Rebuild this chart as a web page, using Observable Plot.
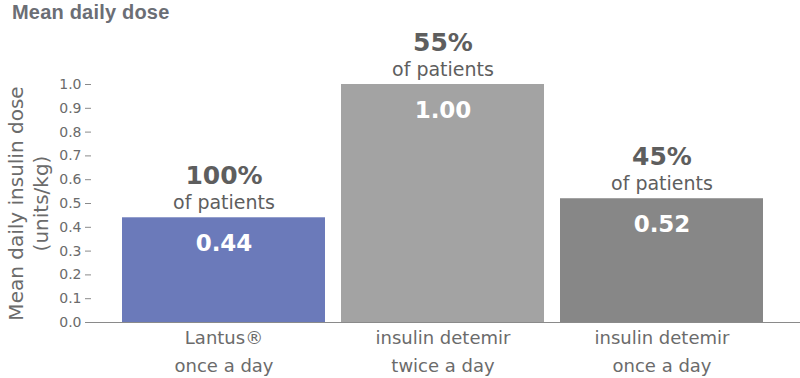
<!DOCTYPE html>
<html>
<head>
<meta charset="utf-8">
<script src="https://cdn.jsdelivr.net/npm/d3@7"></script>
<script src="https://cdn.jsdelivr.net/npm/@observablehq/plot@0.6"></script>
<style>
  html, body { margin: 0; padding: 0; background: #fff; }
  #title { height: 26px; font: bold 20px "Liberation Sans", Arial, sans-serif; color: #6b6e75; padding-left: 12px; line-height: 24px; letter-spacing: 0.2px; }
  svg { display: block; }
</style>
</head>
<body>
<div id="title">Mean daily dose</div>
<div id="chart"></div>
<script>
const categories = ["Lantus®\nonce a day", "insulin detemir\ntwice a day", "insulin detemir\nonce a day"];
const doses = [0.44, 1.00, 0.52];
const doseLabels = ["0.44", "1.00", "0.52"];
const patientShares = ["100%", "55%", "45%"];
const colors = ["#6b7aba", "#a3a3a3", "#878787"];
const yTicks = [0, 0.1, 0.2, 0.3, 0.4, 0.5, 0.6, 0.7, 0.8, 0.9, 1.0];

const data = categories.map((c, i) => ({cat: c, dose: doses[i], label: doseLabels[i], share: patientShares[i], color: colors[i]}));
const font = "DejaVu Sans, sans-serif";

const chart = Plot.plot({
  width: 800,
  height: 352,
  marginLeft: 91,
  marginRight: 0,
  marginTop: 58,
  marginBottom: 56,
  style: {fontFamily: font, background: "#fff"},
  x: {domain: categories, paddingInner: 0.075, paddingOuter: 0.1525, align: 0.46, axis: null},
  y: {domain: [0, 1], axis: null},
  marks: [
    Plot.barY(data, {x: "cat", y: "dose", fill: "color"}),
    Plot.axisY({ticks: yTicks, tickFormat: d3.format(".1f"), tickSize: 6, tickPadding: 4, fontSize: 14, color: "#6b6b6b", stroke: "#8a8a8a", label: null}),
    Plot.ruleX([0], {frameAnchor: "left", y1: 0, y2: 1, stroke: "#8a8a8a"}),
    Plot.ruleY([0], {stroke: "#8a8a8a"}),
    Plot.text(["Mean daily insulin dose\n(units/kg)"], {frameAnchor: "left", textAnchor: "middle", dx: -64, rotate: -90, fontSize: 20, lineHeight: 1.25, fill: "#6b6b6b", text: d => d}),
    Plot.text(data, {x: "cat", y: 0, text: "cat", dy: 27, lineAnchor: "middle", fontSize: 18, lineHeight: 1.55, fill: "#6b6b6b"}),
    Plot.text(data, {x: "cat", y: "dose", text: "label", dy: 26, lineAnchor: "middle", fontSize: 23, fontWeight: "bold", fill: "#ffffff"}),
    Plot.text(data, {x: "cat", y: "dose", text: () => "of patients", dy: -15, lineAnchor: "middle", fontSize: 19, fill: "#5e5e5e"}),
    Plot.text(data, {x: "cat", y: "dose", text: "share", dy: -42, lineAnchor: "middle", fontSize: 25, fontWeight: "bold", fill: "#5e5e5e"})
  ]
});
document.getElementById("chart").appendChild(chart);
</script>
</body>
</html>
